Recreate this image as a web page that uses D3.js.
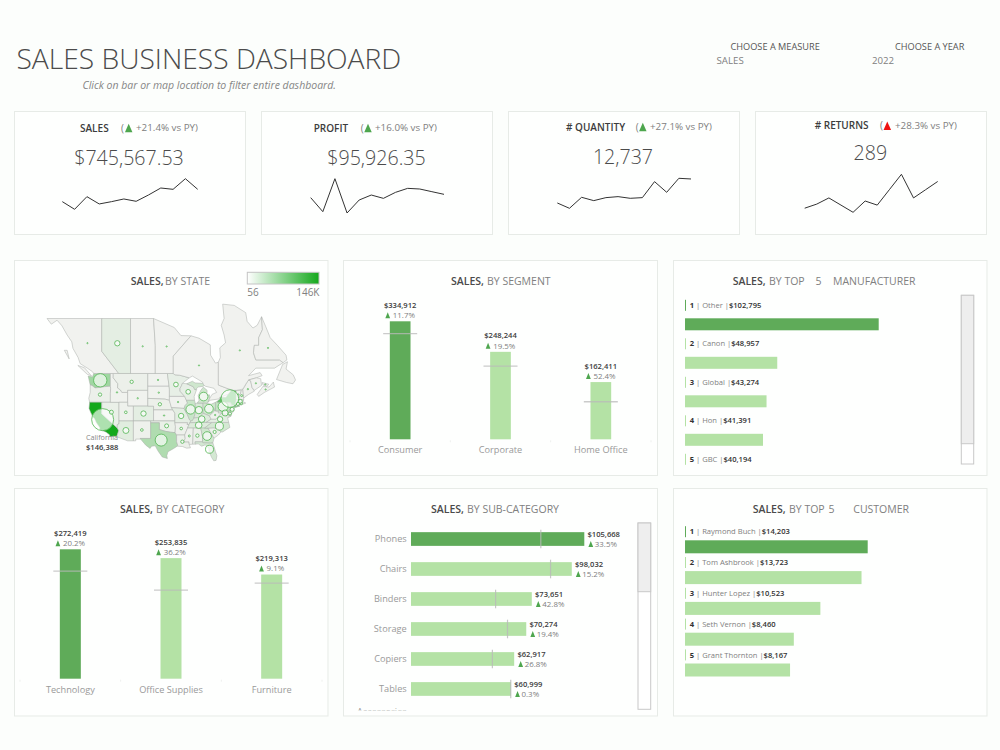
<!DOCTYPE html>
<html><head><meta charset="utf-8">
<script src="https://d3js.org/d3.v7.min.js"></script>
<style>
html,body{margin:0;padding:0;background:#fcfefc;overflow:hidden}
svg{display:block}
text{font-family:"Open Sans","Noto Sans",sans-serif}
</style></head><body><svg id="c" width="1000" height="750"></svg>
<script>
// ---------- data ----------
const months=["Jan","Feb","Mar","Apr","May","Jun","Jul","Aug","Sep","Oct","Nov","Dec"];
const kpiNames=["SALES","PROFIT","# QUANTITY","# RETURNS"];
const kpiValues=["$745,567.53","$95,926.35","12,737","289"];
const kpiChanges=["+21.4% vs PY","+16.0% vs PY","+27.1% vs PY","+28.3% vs PY"];
const salesByMonth=[47500,30000,58900,42200,47500,53600,48300,62700,78700,75700,100000,75700];
const profitByMonth=[8260,2540,16000,2000,7300,9340,7980,10430,12060,11790,10700,9620];
const quantityByMonth=[813,600,1040,907,1027,1067,1000,1027,1667,1240,1800,1773];
const returnsByMonth=[12,16,22,15,8,19,15,30,45,22,30,38];

const segments=["Consumer","Corporate","Home Office"];
const segmentSales=[334912,248244,162411];
const segmentPY=[299832,207735,106569];
const segmentPct=["11.7%","19.5%","52.4%"];

const categories=["Technology","Office Supplies","Furniture"];
const categorySales=[272419,253835,219313];
const categoryPY=[226638,186369,201020];
const categoryPct=["20.2%","36.2%","9.1%"];

const subCategories=["Phones","Chairs","Binders","Storage","Copiers","Tables"];
const subSales=[105668,98032,73651,70274,62917,60999];
const subPY=[79154,85097,51576,58856,49619,60817];
const subPct=["33.5%","15.2%","42.8%","19.4%","26.8%","0.3%"];

const manufacturers=["Other","Canon","Global","Hon","GBC"];
const manufacturerSales=[102795,48957,43274,41391,40194];
const customers=["Raymond Buch","Tom Ashbrook","Hunter Lopez","Seth Vernon","Grant Thornton"];
const customerSales=[14203,13723,10523,8460,8167];

const regionNames=["WA","OR","CA","NV","ID","MT","WY","UT","AZ","CO","NM","ND","SD","NE","KS","OK","TX","MN","IA","MO","AR","LA","WI","IL","IN","MI","OH","KY","TN","MS","AL","GA","FL","SC","NC","VA","WV","PA","NY","NJ","MD","DE","CT","RI","MA","VT","NH","ME","BC","AB","SK","MB","ON","QC","NL","NB","NS","PE"];
const regionSales=[53800,3400,146388,4800,538,3360,538,2150,10890,8600,2150,538,538,3360,538,4840,43421,6590,538,8600,2150,3360,6590,26350,16270,22700,22700,13440,13440,1210,3360,22700,19360,3000,19360,8600,538,30240,93922,5000,10890,3000,3000,2000,4800,538,1200,538,300,8600,200,200,300,300,200,120,100,56];

const regionShapes={
WA:[[[-124.7,48.4],[-123.2,48.2],[-122.8,49],[-117,49],[-117,46],[-119,45.9],[-121,45.7],[-122.3,45.6],[-123.4,46.2],[-124,46.3]]],
OR:[[[-124,46.3],[-123.4,46.2],[-122.3,45.6],[-121,45.7],[-119,45.9],[-117,46],[-116.9,45.5],[-117,44.3],[-117,42],[-124.2,42],[-124.5,43],[-124,44.5]]],
CA:[[[-124.2,42],[-120,42],[-120,39],[-114.6,35],[-114.1,34.3],[-114.7,32.7],[-117.1,32.5],[-117.3,33.1],[-118.4,33.8],[-119.2,34.1],[-120.6,34.5],[-120.7,35.2],[-121.9,36.6],[-122.5,37.7],[-123,38],[-123.8,39.3],[-124.4,40.4]]],
NV:[[[-120,42],[-114,42],[-114,36.2],[-114.6,36],[-114.6,35],[-120,39]]],
ID:[[[-117,49],[-116,49],[-116,48],[-114.4,46.6],[-114.5,45.6],[-113.5,45.1],[-113,44.5],[-111,44.5],[-111,42],[-117,42],[-117,44.3],[-116.9,45.5],[-117,46]]],
MT:[[[-116,49],[-104,49],[-104,45],[-111,45],[-111,44.5],[-113,44.5],[-113.5,45.1],[-114.5,45.6],[-114.4,46.6],[-116,48]]],
WY:[[[-111,45],[-104,45],[-104,41],[-111,41]]],
UT:[[[-114,42],[-111,42],[-111,41],[-109,41],[-109,37],[-114,37]]],
AZ:[[[-114,37],[-109,37],[-109,31.3],[-111,31.3],[-114.8,32.5],[-114.7,32.7],[-114.1,34.3],[-114.6,35],[-114.6,36],[-114,36.2]]],
CO:[[[-109,41],[-102,41],[-102,37],[-109,37]]],
NM:[[[-109,37],[-103,37],[-103,32],[-106.6,32],[-106.5,31.8],[-108.2,31.8],[-108.2,31.3],[-109,31.3]]],
ND:[[[-104,49],[-97.2,49],[-96.6,46],[-104,46]]],
SD:[[[-104,46],[-96.6,46],[-96.5,45.3],[-96.5,42.5],[-98,42.8],[-104,43]]],
NE:[[[-104,43],[-98,42.8],[-96.5,42.5],[-95.9,41],[-95.3,40],[-102,40],[-102,41],[-104,41]]],
KS:[[[-102,40],[-95.3,40],[-94.6,39.1],[-94.6,37],[-102,37]]],
OK:[[[-103,37],[-94.6,37],[-94.4,35.4],[-94.5,33.7],[-96,33.8],[-98,34.1],[-100,34.6],[-100,36.5],[-103,36.5]]],
TX:[[[-106.6,32],[-103,32],[-103,36.5],[-100,36.5],[-100,34.6],[-98,34.1],[-96,33.8],[-94.5,33.7],[-94,33],[-94,31],[-93.6,30],[-93.8,29.7],[-95,29],[-97,28],[-97.4,26.8],[-97.2,25.9],[-99,26.4],[-100.5,28.3],[-101.4,29.8],[-102.7,29.7],[-103.2,29],[-104.7,30],[-106.5,31.8]]],
MN:[[[-97.2,49],[-95.2,49],[-94.6,48.7],[-92.9,48.6],[-89.6,48],[-92,46.7],[-92.3,46.1],[-92.8,45.5],[-92.8,44.8],[-91.2,43.5],[-96.5,43.5],[-96.5,45.3],[-96.6,46]]],
IA:[[[-96.5,43.5],[-91.2,43.5],[-90.6,42.5],[-90.2,41.8],[-91,41.2],[-91.4,40.4],[-95.8,40.6],[-96.5,42.5]]],
MO:[[[-95.8,40.6],[-91.4,40.4],[-90.7,39.3],[-90.2,38.7],[-89.5,37.3],[-89.1,37],[-89.7,36],[-90.4,36],[-90.2,36.5],[-94.6,36.5],[-94.6,39.1],[-95.3,40]]],
AR:[[[-94.6,36.5],[-90.2,36.5],[-90.4,36],[-89.7,36],[-90.2,35],[-91.2,33],[-94,33],[-94.5,33.7],[-94.4,35.4]]],
LA:[[[-94,33],[-91.2,33],[-91,32],[-91.6,31],[-89.7,31],[-89.6,30.2],[-89.2,29.2],[-90.5,29.1],[-92,29.6],[-93.8,29.7],[-93.6,30],[-94,31]]],
WI:[[[-92,46.7],[-90.5,46.6],[-88.2,45.9],[-87.6,45.1],[-87,45.3],[-87.9,43.5],[-87.8,42.5],[-90.6,42.5],[-91.2,43.5],[-92.8,44.8],[-92.8,45.5],[-92.3,46.1]]],
IL:[[[-90.6,42.5],[-87.8,42.5],[-87.5,41.7],[-87.5,39.3],[-88,37.8],[-88.5,37.1],[-89.1,37],[-89.5,37.3],[-90.2,38.7],[-90.7,39.3],[-91.4,40.4],[-91,41.2],[-90.2,41.8]]],
IN:[[[-87.5,41.7],[-86.8,41.8],[-84.8,41.8],[-84.8,39.1],[-86,38],[-88,37.8],[-87.5,39.3]]],
MI:[[[-86.8,41.8],[-84.8,41.8],[-83.4,41.7],[-82.5,43],[-82.6,43.9],[-83.5,43.8],[-83.4,45],[-84.7,45.8],[-85.6,45],[-86.5,43.7],[-86.2,42.5]],[[-90.5,46.6],[-88.5,47.2],[-87.6,46.8],[-85,46.7],[-84.2,46.4],[-84.7,46],[-86.5,45.8],[-87.6,45.1],[-88.2,45.9]]],
OH:[[[-84.8,41.8],[-83.4,41.7],[-82,41.5],[-80.5,42],[-80.5,40.6],[-80.8,39.7],[-81.8,39],[-82.6,38.4],[-84.8,39.1]]],
KY:[[[-84.8,39.1],[-82.6,38.4],[-82,37.5],[-83.7,36.6],[-89.4,36.5],[-89.1,37],[-88.5,37.1],[-88,37.8],[-86,38]]],
TN:[[[-90.2,35],[-89.7,36],[-89.4,36.5],[-83.7,36.6],[-81.7,36.6],[-84.3,35],[-85.6,35]]],
MS:[[[-90.2,35],[-88.2,35],[-88.4,30.3],[-89.6,30.2],[-89.7,31],[-91.6,31],[-91,32],[-91.2,33]]],
AL:[[[-88.2,35],[-85.6,35],[-85,32.5],[-85,31],[-87.6,31],[-87.5,30.3],[-88.4,30.3]]],
GA:[[[-85.6,35],[-83.1,35],[-81,32.1],[-81.4,30.7],[-82.2,30.6],[-84.9,30.7],[-85,31],[-85,32.5]]],
FL:[[[-87.6,31],[-85,31],[-84.9,30.7],[-82.2,30.6],[-81.4,30.7],[-80.5,28],[-80,26.8],[-80.3,25.3],[-81.1,25.2],[-81.8,26.2],[-82.7,28],[-82.8,29],[-84,30.1],[-85.3,29.7],[-86.5,30.4],[-87.5,30.3]]],
SC:[[[-83.1,35],[-81,35.1],[-79.7,34.8],[-78.6,33.9],[-79.5,33],[-81,32.1]]],
NC:[[[-84.3,35],[-81.7,36.6],[-75.9,36.6],[-75.5,35.2],[-76.5,34.7],[-78,33.9],[-78.6,33.9],[-79.7,34.8],[-81,35.1],[-83.1,35]]],
VA:[[[-83.7,36.6],[-82,37.5],[-80.3,37.5],[-79.3,38.4],[-78.4,39.2],[-77.1,38.8],[-76.3,37.9],[-75.9,36.6]]],
WV:[[[-82.6,38.4],[-81.8,39],[-80.8,39.7],[-80.5,40.6],[-80.5,39.7],[-79.5,39.7],[-79.5,39.2],[-77.8,39.5],[-78.4,39.2],[-79.3,38.4],[-80.3,37.5],[-82,37.5]]],
PA:[[[-80.5,42],[-79.8,42.3],[-79.8,42],[-75.3,42],[-74.8,41.3],[-75.2,40.7],[-75.4,39.8],[-80.5,39.7]]],
NY:[[[-79.8,42.3],[-78.9,42.9],[-79,43.3],[-76.8,43.3],[-76.2,44],[-75,45],[-73.3,45],[-73.3,42.7],[-73.5,41],[-72,41],[-74,40.6],[-74,41],[-74.8,41.3],[-75.3,42],[-79.8,42]]],
NJ:[[[-74.8,41.3],[-74,41],[-74,40.5],[-74.1,39.7],[-75,38.9],[-75.5,39.5],[-75.2,40.7]]],
MD:[[[-79.5,39.7],[-75.8,39.7],[-75.7,38.4],[-75.05,38.4],[-76,37.9],[-76.4,39],[-77.1,38.8],[-78.4,39.2],[-79.5,39.2]]],
DE:[[[-75.8,39.7],[-75.4,39.8],[-75.05,38.4],[-75.7,38.4]]],
CT:[[[-73.5,42],[-71.8,42],[-71.8,41.3],[-73.5,41]]],
RI:[[[-71.8,42],[-71.3,42],[-71.2,41.5],[-71.8,41.3]]],
MA:[[[-73.3,42.7],[-71.3,42.7],[-70.7,42.6],[-71,42.2],[-70,41.8],[-70.6,41.6],[-71.2,41.5],[-71.3,42],[-73.5,42]]],
VT:[[[-73.3,45],[-71.5,45],[-72.4,42.7],[-73.3,42.7]]],
NH:[[[-71.5,45],[-71,45.3],[-70.7,43.1],[-70.7,42.6],[-71.3,42.7],[-72.4,42.7]]],
ME:[[[-71,45.3],[-70.3,46],[-69.2,47.4],[-68.3,47.3],[-67.8,45.7],[-67,44.8],[-69,44],[-70.7,43.1]]],
BC:[[[-139,60],[-120,60],[-120,53.8],[-114.1,49],[-122.8,49],[-123.2,49.4],[-125,50.2],[-127.5,51.2],[-128.2,52.5],[-130,54.4],[-130.4,55.7],[-132,57],[-133.8,58.7],[-135.5,59.7],[-137.5,59]],[[-123.5,48.4],[-125,48.8],[-128.3,50.8],[-126,50.3]],[[-132,54],[-133,54],[-131.3,52.2]]],
AB:[[[-120,60],[-110,60],[-110,49],[-114.1,49],[-120,53.8]]],
SK:[[[-110,60],[-102,60],[-101.4,55],[-101.4,49],[-110,49]]],
MB:[[[-102,60],[-94.8,58.4],[-92.5,56.9],[-89,56.85],[-95.15,52.8],[-95.15,49],[-101.4,49],[-101.4,55]]],
ON:[[[-89,56.85],[-86.2,56.4],[-82.3,55.1],[-82.2,53],[-80.5,51.3],[-79.5,51.5],[-79.5,47.5],[-79.5,46.3],[-76.5,45.5],[-74.4,45],[-75,45],[-76.2,44],[-79,43.3],[-79,42.9],[-82.5,42.5],[-83,42],[-82.5,43],[-81.7,44],[-80.1,44.5],[-81,45.5],[-84,46],[-84.7,46.4],[-85,47],[-88.5,48.4],[-89.6,48],[-92.9,48.6],[-94.6,48.7],[-95.15,49],[-95.15,52.8]]],
QC:[[[-79.5,51.5],[-78.8,52.5],[-79,54.5],[-77,55.5],[-77.5,57],[-78.5,58.8],[-77.5,60],[-78,62.4],[-74,62.2],[-70,61],[-69.5,59.5],[-67.5,58.3],[-66,58.8],[-64.5,60.3],[-64.2,58],[-65.5,56.5],[-65.5,55],[-67,55],[-67.3,53.5],[-66.5,52],[-58.3,52],[-57,51.4],[-60,50.2],[-66.5,50.2],[-69,48.5],[-65,49.2],[-64.3,48.5],[-66.3,48],[-69,47.5],[-70,46.5],[-71,45.3],[-73.3,45],[-74.4,45],[-76.5,45.5],[-79.5,46.3],[-79.5,47.5]]],
NL:[[[-64.5,60.3],[-63,58.5],[-61.5,56.5],[-59,55],[-56,53],[-55.7,52],[-57,51.4],[-58.3,52],[-66.5,52],[-67.3,53.5],[-67,55],[-65.5,55],[-65.5,56.5],[-64.2,58]],[[-59.3,47.6],[-57.2,51],[-55.5,51.6],[-56,50],[-53.5,48.7],[-52.7,47.5],[-53.6,46.6],[-55.8,46.9]]],
NB:[[[-69,47.5],[-66.3,48],[-64.8,47.8],[-64.5,46.2],[-67,45],[-67.8,45.7],[-68.3,47.3]]],
NS:[[[-66,44],[-64.5,45.5],[-64,46],[-61.9,45.8],[-60.4,47],[-60,45.8],[-63.5,44.5],[-65.5,43.5]]],
PE:[[[-64.3,46.9],[-62,46.5],[-62.6,46],[-64,46.3]]]
};

// ---------- helpers ----------
const DARK="#5fab59", LIGHT="#b4e2a5", TRI="#4ea64e", INK="#444", GREY="#808080";
const svg=d3.select("#c");
function txt(g,x,y,s,o={}){
  return g.append("text").attr("x",x).attr("y",y).attr("dy",".35em")
    .attr("text-anchor",o.anchor||"start").attr("font-size",o.size||10)
    .attr("font-weight",o.weight||400).attr("font-style",o.style||"normal")
    .attr("fill",o.fill||INK).text(s);
}
function rich(g,x,y,parts,o={}){
  const t=g.append("text").attr("x",x).attr("y",y).attr("dy",".35em")
    .attr("text-anchor",o.anchor||"start").attr("font-size",o.size||10);
  parts.forEach(p=>t.append("tspan").attr("font-weight",p[2]||400).attr("fill",p[1]).text(p[0]));
  return t;
}
function tri(g,cx,cy,w,h,fill){
  g.append("path").attr("transform",`translate(${cx},${cy})`)
   .attr("d",`M0,${-h/2}L${w/2},${h/2}L${-w/2},${h/2}Z`).attr("fill",fill);
}
function card(x,y,w,h){
  svg.append("rect").attr("x",x+.5).attr("y",y+.5).attr("width",w).attr("height",h)
    .attr("fill","#fefffe").attr("stroke","#e7ebe7").attr("stroke-width",1);
}
function scrollbar(x,y,w,h,thumb){
  svg.append("rect").attr("x",x).attr("y",y).attr("width",w).attr("height",h).attr("fill","#fff").attr("stroke","#c8c8c8");
  svg.append("rect").attr("x",x).attr("y",y).attr("width",w).attr("height",thumb).attr("fill","#eeeeee").attr("stroke","#c8c8c8");
}
function panelTitle(x,y,parts){
  parts.forEach(p=>txt(svg,p[0],y,p[1],{size:p[3]||10.5,weight:p[2]?600:400,fill:p[2]?"#4a4a4a":"#808080"}));
}

// ---------- header ----------
txt(svg,16.5,59,"SALES BUSINESS DASHBOARD",{size:28.2,weight:300,fill:"#4b4b4b"});
txt(svg,82.5,85,"Click on bar or map location to filter entire dashboard.",{size:10.5,style:"italic",fill:"#868686"});
txt(svg,730.5,46.7,"CHOOSE A MEASURE",{size:9.2,fill:"#555"});
txt(svg,895,46.7,"CHOOSE A YEAR",{size:9.2,fill:"#555"});
txt(svg,716.5,60.7,"SALES",{size:9.7,fill:"#808080"});
txt(svg,872,60.7,"2022",{size:9.7,fill:"#808080"});

// ---------- KPI cards ----------
const kpiX=[14,261,508,755];
const kpiData=[salesByMonth,profitByMonth,quantityByMonth,returnsByMonth];
const kpiLayout=[
 {nameX:80,  y:128,  parenX:121,  triX:128.7,chgX:136,  valX:129,  valY:158,  sx:[62.3,197.7],  sy:[209.3,178.7]},
 {nameX:313.7,y:128, parenX:360.7,triX:368,  chgX:375,  valX:376.5,valY:157.7,sx:[310.7,444],   sy:[213,178.7]},
 {nameX:566, y:127,  parenX:635.7,triX:642.8,chgX:650,  valX:623,  valY:156.7,sx:[557.3,691],   sy:[208.3,178.3]},
 {nameX:814.7,y:125.7,parenX:880, triX:887.3,chgX:895,  valX:870.3,valY:153,  sx:[804.7,937.7], sy:[212.3,174.3]}
];
kpiNames.forEach((name,i)=>{
  const L=kpiLayout[i];
  card(kpiX[i],111,231,123);
  txt(svg,L.nameX,L.y,name,{size:10,weight:600,fill:"#3c3c3c"});
  txt(svg,L.parenX,L.y,"(",{size:10,fill:GREY});
  tri(svg,L.triX,L.y,7.5,8.5,i===3?"#ee1111":TRI);
  txt(svg,L.chgX,L.y,kpiChanges[i]+")",{size:9.8,fill:GREY});
  txt(svg,L.valX,L.valY,kpiValues[i],{size:19.6,weight:300,anchor:"middle",fill:"#4b4b4b"});
  const x=d3.scalePoint().domain(months).range(L.sx);
  const y=d3.scaleLinear().domain(d3.extent(kpiData[i])).range(L.sy);
  svg.append("path").datum(kpiData[i]).attr("fill","none").attr("stroke","#333").attr("stroke-width",1)
    .attr("d",d3.line().x((d,j)=>x(months[j])).y(d=>y(d)));
});

// ---------- lower cards ----------
[[14,260],[343,260],[673,260],[14,488],[343,488],[673,488]].forEach((p,i)=>card(p[0],p[1],i%3===0?313.5:i%3===1?314:313.5,i<3?215:227.5));

panelTitle(0,281,[[130.7,"SALES,",1],[165,"BY STATE",0]]);
panelTitle(0,281,[[451,"SALES,",1],[487,"BY SEGMENT",0]]);
panelTitle(0,281,[[732.7,"SALES,",1],[769,"BY TOP",0],[815.5,"5",0],[833,"MANUFACTURER",0]]);
panelTitle(0,509,[[120,"SALES,",1],[156,"BY CATEGORY",0]]);
panelTitle(0,509,[[431,"SALES,",1],[467,"BY SUB-CATEGORY",0]]);
panelTitle(0,509,[[752.7,"SALES,",1],[789,"BY TOP",0],[828.5,"5",0],[853.3,"CUSTOMER",0]]);

// ---------- vertical bars ----------
function vbars(names,vals,py,pct,o){
  const x=d3.scaleBand().domain(names).range(o.xr);
  const y=d3.scaleLinear().domain([0,o.max]).range([o.base,o.top]);
  const g=svg.append("g");
  const cx=n=>x(n)+x.bandwidth()/2;
  g.selectAll("line.edge").data(d3.range(names.length+1)).join("line").attr("class","edge")
    .attr("x1",i=>o.xr[0]+i*x.step()).attr("x2",i=>o.xr[0]+i*x.step())
    .attr("y1",o.base+1).attr("y2",o.base+3).attr("stroke","#eef0ee");
  g.selectAll("rect.b").data(names).join("rect").attr("class","b")
    .attr("x",n=>cx(n)-o.w/2).attr("width",o.w)
    .attr("y",(n,i)=>y(vals[i])).attr("height",(n,i)=>o.base-y(vals[i]))
    .attr("fill",(n,i)=>i===0?DARK:LIGHT);
  g.selectAll("line.py").data(names).join("line").attr("class","py")
    .attr("x1",n=>cx(n)-17).attr("x2",n=>cx(n)+17)
    .attr("y1",(n,i)=>y(py[i])).attr("y2",(n,i)=>y(py[i]))
    .attr("stroke","#b9b9b9").attr("stroke-opacity",.75).attr("stroke-width",1.3);
  names.forEach((n,i)=>{
    const top=y(vals[i]);
    txt(g,cx(n),top-16,d3.format("$,")(vals[i]),{size:7.6,weight:600,anchor:"middle",fill:"#3c3c3c"});
    const p=txt(g,cx(n),top-6,pct[i],{size:7.9,fill:GREY});
    const w=p.node().getComputedTextLength(), start=cx(n)-(w+7.5)/2;
    p.attr("x",start+7.5);
    tri(g,start+2.4,top-6,4.8,6,TRI);
    txt(g,cx(n),o.base+o.lab,n,{size:9.2,anchor:"middle",fill:"#9a9a9a"});
  });
}
vbars(segments,segmentSales,segmentPY,segmentPct,{xr:[350,651],base:439.3,top:321.3,max:334912,w:20.7,lab:10.7});
vbars(categories,categorySales,categoryPY,categoryPct,{xr:[20,322],base:678.7,top:549.3,max:272419,w:21,lab:10.6});

// ---------- sub-category ----------
(function(){
  const x=d3.scaleLinear().domain([0,105668]).range([411,584.3]);
  const y=d3.scaleBand().domain(subCategories).range([524,704]).paddingInner(.543).paddingOuter(.272);
  const g=svg.append("g");
  const cy=n=>y(n)+y.bandwidth()/2;
  g.selectAll("rect").data(subCategories).join("rect")
    .attr("x",x(0)).attr("y",n=>y(n)).attr("height",y.bandwidth())
    .attr("width",(n,i)=>x(subSales[i])-x(0)).attr("fill",(n,i)=>i===0?DARK:LIGHT);
  g.selectAll("line").data(subCategories).join("line")
    .attr("x1",(n,i)=>x(subPY[i])).attr("x2",(n,i)=>x(subPY[i]))
    .attr("y1",n=>cy(n)-9.3).attr("y2",n=>cy(n)+9.3)
    .attr("stroke","#b9b9b9").attr("stroke-opacity",.8).attr("stroke-width",1.2);
  subCategories.forEach((n,i)=>{
    const end=x(subSales[i]);
    txt(g,406.7,cy(n),n,{size:9.2,anchor:"end",fill:"#9a9a9a"});
    txt(g,end+3.2,cy(n)-5,d3.format("$,")(subSales[i]),{size:7.6,weight:600,fill:"#3c3c3c"});
    tri(g,end+6.5,cy(n)+5,4.8,6,TRI);
    txt(g,end+10.5,cy(n)+5,subPct[i],{size:7.9,fill:GREY});
  });
  svg.append("clipPath").attr("id","subClip").append("rect").attr("x",344).attr("y",520).attr("width",290).attr("height",190.5);
  txt(svg.append("g").attr("clip-path","url(#subClip)"),406.7,712,"Accessories",{size:9.2,anchor:"end",fill:"#9a9a9a"});
  scrollbar(638,523,12.7,186.3,68.7);
})();

// ---------- ranked lists ----------
function ranked(names,vals,o){
  const x=d3.scaleLinear().domain([0,o.max]).range([685,o.right]);
  const y=d3.scaleBand().domain(names).range(o.yr);
  const id="clip"+o.id;
  svg.append("clipPath").attr("id",id).append("rect").attr("x",680).attr("y",o.yr[0]-8).attr("width",275).attr("height",o.clip-o.yr[0]+8);
  const g=svg.append("g").attr("clip-path",`url(#${id})`);
  names.forEach((n,i)=>{
    const t=y(n), col=i===0?DARK:LIGHT;
    g.append("rect").attr("x",685).attr("y",t-5.5).attr("width",1).attr("height",11).attr("fill",col);
    rich(g,689.7,t,[[String(i+1),"#333",700],[" | "+n+" |","#808080"],[d3.format("$,")(vals[i]),"#333",600]],{size:7.6});
    g.append("rect").attr("x",685).attr("y",t+o.dy).attr("height",o.h)
      .attr("width",x(vals[i])-685).attr("fill",col);
  });
}
ranked(manufacturers,manufacturerSales,{id:"m",max:102795,right:878.7,yr:[305.3,497.8],dy:13,h:12,clip:465});
ranked(customers,customerSales,{id:"c",max:14203,right:867.7,yr:[531.7,685.7],dy:8.6,h:13,clip:680});
scrollbar(961.3,295.3,12.4,168.7,148.4);

// ---------- map ----------
(function(){
  const projection=d3.geoMercator().scale(165).translate([447.3,535.8]);
  const line=d3.line().curve(d3.curveLinearClosed);
  const color=d3.scaleLinear().domain([56,146388]).range(["#f1f2ef","#14a81c"]);
  const r=d3.scaleSqrt().domain([0,146388]).range([0,11]);
  const g=svg.append("g");
  const rows=regionNames.map((n,i)=>({n,v:regionSales[i],rings:regionShapes[n].map(ring=>ring.map(p=>projection(p)))}));
  g.selectAll("path").data(rows).join("path")
    .attr("d",d=>d.rings.map(ring=>line(ring)).join(""))
    .attr("fill",d=>color(d.v)).attr("stroke","#a9aca9").attr("stroke-width",.5).attr("stroke-linejoin","round");
  g.selectAll("circle").data(rows).join("circle")
    .attr("cx",d=>d3.polygonCentroid(d.rings[0])[0]).attr("cy",d=>d3.polygonCentroid(d.rings[0])[1])
    .attr("r",d=>Math.max(r(d.v),.6))
    .attr("fill","#fff").attr("fill-opacity",.65).attr("stroke","#52b552").attr("stroke-width",.8);
  txt(g,86,437,"California",{size:7.2,fill:"#888"});
  txt(g,86,447,d3.format("$,")(146388),{size:7.6,weight:600,fill:"#3c3c3c"});
  // legend
  const grad=svg.append("defs").append("linearGradient").attr("id","lg");
  grad.append("stop").attr("offset",0).attr("stop-color","#ffffff");
  grad.append("stop").attr("offset",1).attr("stop-color","#14a81c");
  svg.append("rect").attr("x",247.3).attr("y",272.3).attr("width",71.7).attr("height",11.7).attr("fill","url(#lg)").attr("stroke","#c4c4c4");
  txt(svg,247.3,292.7,"56",{size:10,fill:"#808080"});
  txt(svg,319.5,292.7,"146K",{size:10,anchor:"end",fill:"#808080"});
})();
</script></body></html>
